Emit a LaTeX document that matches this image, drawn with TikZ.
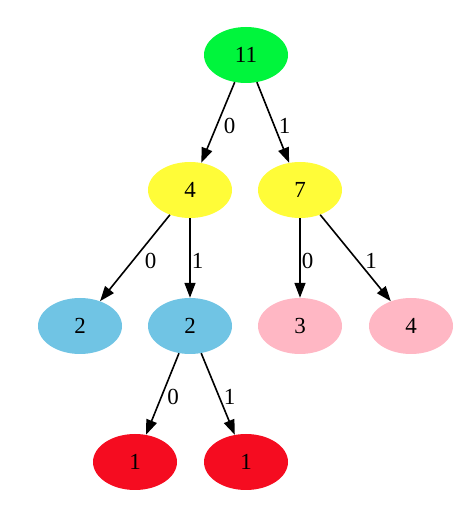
\documentclass[tikz,border=0pt]{standalone}
\usepackage{fontspec}
\setmainfont{Liberation Serif}
\usetikzlibrary{shapes.geometric,arrows.meta}
\definecolor{nodegreen}{RGB}{0,245,60}
\definecolor{nodeyellow}{RGB}{255,252,56}
\definecolor{nodeblue}{RGB}{112,196,228}
\definecolor{nodepink}{RGB}{255,183,196}
\definecolor{nodered}{RGB}{245,12,32}
\tikzset{
    huff/.style={ellipse, inner sep=0pt, minimum width=84pt, minimum height=56pt,
        font=\fontsize{23}{27}\selectfont},
    edge/.style={line width=1.6pt, -{Triangle[length=15pt,width=11pt]}},
    lbl/.style={midway, anchor=west, inner sep=1pt, yshift=-3pt,
        font=\fontsize{23}{27}\selectfont}
}
\begin{document}
\begin{tikzpicture}[x=1pt,y=1pt]
        \useasboundingbox (0,0) rectangle (474,506);
        \node [huff, fill=nodegreen] (n11) at (246,451) {11};
        \node [huff, fill=nodeyellow] (n4) at (190,316) {4};
        \node [huff, fill=nodeyellow] (n7) at (300,316) {7};
        \node [huff, fill=nodeblue] (n2a) at (80,180) {2};
        \node [huff, fill=nodeblue] (n2b) at (190,180) {2};
        \node [huff, fill=nodepink] (n3) at (300,180) {3};
        \node [huff, fill=nodepink] (n4b) at (411,180) {4};
        \node [huff, fill=nodered] (n1a) at (135,44) {1};
        \node [huff, fill=nodered] (n1b) at (246,44) {1};
        \draw [edge] (n11) -- (n4) node [lbl, xshift=4pt] {0};
        \draw [edge] (n11) -- (n7) node [lbl, xshift=4pt] {1};
        \draw [edge] (n4) -- (n2a) node [lbl, xshift=8pt] {0};
        \draw [edge] (n4) -- (n2b) node [lbl] {1};
        \draw [edge] (n7) -- (n3) node [lbl] {0};
        \draw [edge] (n7) -- (n4b) node [lbl, xshift=8pt] {1};
        \draw [edge] (n2b) -- (n1a) node [lbl, xshift=3pt] {0};
        \draw [edge] (n2b) -- (n1b) node [lbl, xshift=4pt] {1};
    \end{tikzpicture}
\end{document}
